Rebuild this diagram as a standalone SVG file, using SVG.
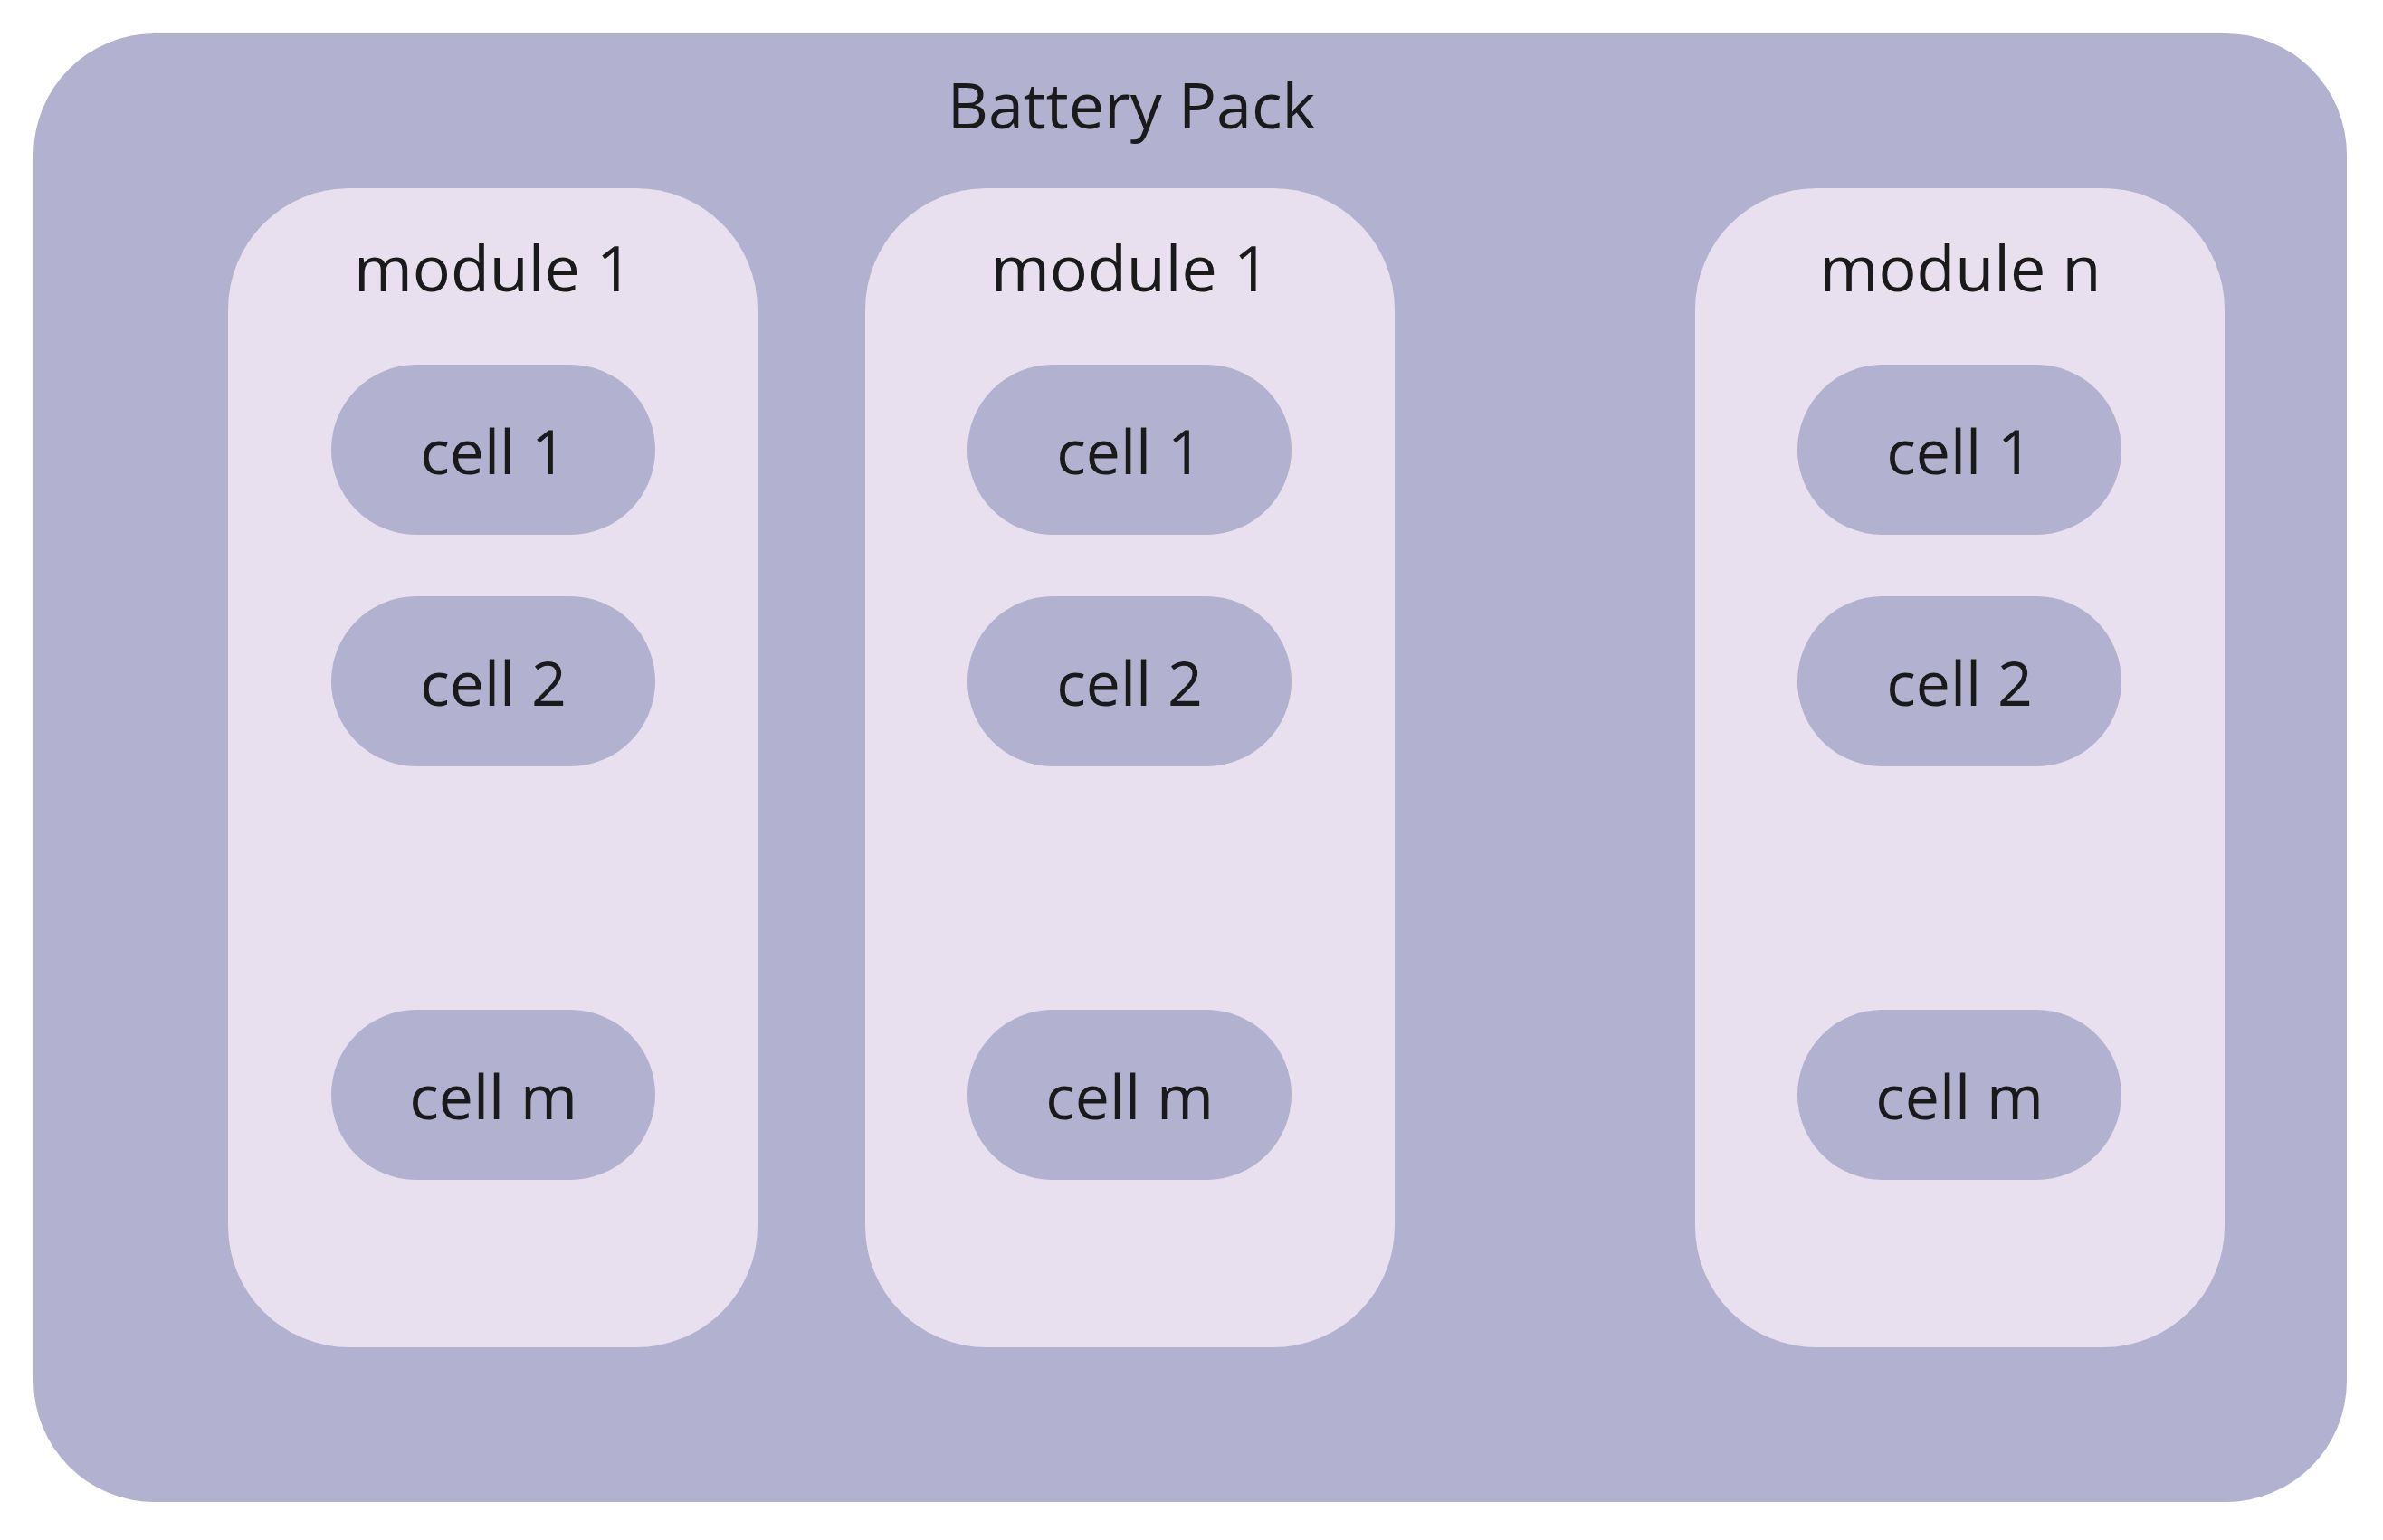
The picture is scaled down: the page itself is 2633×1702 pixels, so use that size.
<svg xmlns="http://www.w3.org/2000/svg" width="2633" height="1702" viewBox="0 0 2633 1702">
<style>
.pack{fill:#B2B1CF}
.mod{fill:#E8E0EE}
.cell{fill:#B2B1CF}
text{font-family:"Open Sans","Noto Sans",sans-serif;fill:#1a1a1a;text-anchor:middle;dominant-baseline:central}
.t1{font-size:70px}
.t2{font-size:68px}
</style>
<rect width="2633" height="1702" fill="#fff"/>
<g id="pack"><rect class="pack" x="37" y="37" width="2556" height="1623" rx="134"/><text class="t1" x="1250" y="115">Battery Pack</text></g>
<g id="module1"><rect class="mod" x="252" y="208" width="585" height="1281" rx="134"/><text class="t1" x="545" y="295">module 1</text>
<rect class="cell" x="366" y="403" width="358" height="188" rx="94"/><text class="t2" x="545" y="497">cell 1</text>
<rect class="cell" x="366" y="659" width="358" height="188" rx="94"/><text class="t2" x="545" y="753">cell 2</text>
<rect class="cell" x="366" y="1116" width="358" height="188" rx="94"/><text class="t2" x="545" y="1210">cell m</text></g>
<g id="module2"><rect class="mod" x="956" y="208" width="585" height="1281" rx="134"/><text class="t1" x="1249" y="295">module 1</text>
<rect class="cell" x="1069" y="403" width="358" height="188" rx="94"/><text class="t2" x="1248" y="497">cell 1</text>
<rect class="cell" x="1069" y="659" width="358" height="188" rx="94"/><text class="t2" x="1248" y="753">cell 2</text>
<rect class="cell" x="1069" y="1116" width="358" height="188" rx="94"/><text class="t2" x="1248" y="1210">cell m</text></g>
<g id="module3"><rect class="mod" x="1873" y="208" width="585" height="1281" rx="134"/><text class="t1" x="2166" y="295">module n</text>
<rect class="cell" x="1986" y="403" width="358" height="188" rx="94"/><text class="t2" x="2165" y="497">cell 1</text>
<rect class="cell" x="1986" y="659" width="358" height="188" rx="94"/><text class="t2" x="2165" y="753">cell 2</text>
<rect class="cell" x="1986" y="1116" width="358" height="188" rx="94"/><text class="t2" x="2165" y="1210">cell m</text></g>
<g id="connectors"/>
</svg>
